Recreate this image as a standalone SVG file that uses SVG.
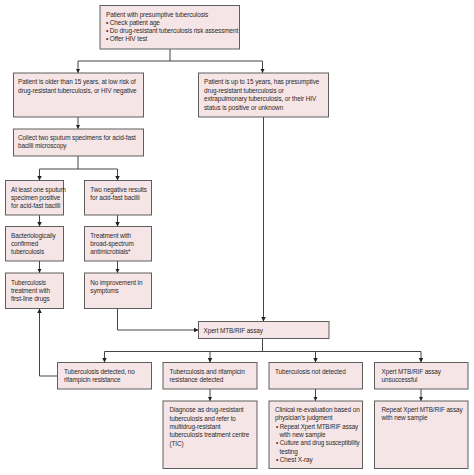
<svg xmlns="http://www.w3.org/2000/svg" width="474" height="475" viewBox="0 0 474 475">
<defs>
<marker id="ah" viewBox="0 0 10 10" refX="10" refY="5" markerWidth="4.5" markerHeight="4.5" markerUnits="userSpaceOnUse" orient="auto"><path d="M0,0 L10,5 L0,10 z" fill="#222"/></marker>
<style>
rect{fill:#f6e5e6;stroke:#5e5e5e;stroke-width:1}
text{font-family:"Liberation Sans",Arial,sans-serif;font-size:6.4px;letter-spacing:-0.09px;fill:#2a2a2a}
.c path{fill:none;stroke:#444;stroke-width:1}
</style>
</defs>
<rect x="0" y="0" width="474" height="475" style="fill:#fff;stroke:none"/>
<g class="c" id="connectors">
<path d="M170,49 V61 M78,61 H262.5 M78,61 V73" marker-end="url(#ah)"/>
<path d="M262.5,61 V73" marker-end="url(#ah)"/>
<path d="M78,117 V129" marker-end="url(#ah)"/>
<path d="M78,156 V169 M39.5,169 H117.5 M39.5,169 V180.5" marker-end="url(#ah)"/>
<path d="M117.5,169 V180.5" marker-end="url(#ah)"/>
<path d="M39.5,215 V226.5" marker-end="url(#ah)"/>
<path d="M117.5,215 V226.5" marker-end="url(#ah)"/>
<path d="M39.5,261 V273" marker-end="url(#ah)"/>
<path d="M117.5,261 V273" marker-end="url(#ah)"/>
<path d="M117.5,308.5 V330 H198.5" marker-end="url(#ah)"/>
<path d="M263.5,117 V321.5" marker-end="url(#ah)"/>
<path d="M57.5,376 H39.5 V308.5" marker-end="url(#ah)"/>
<path d="M262.5,338.5 V351.5 M104.5,351.5 H421 M104.5,351.5 V362.5" marker-end="url(#ah)"/>
<path d="M210,351.5 V362.5" marker-end="url(#ah)"/>
<path d="M315.5,351.5 V362.5" marker-end="url(#ah)"/>
<path d="M421,351.5 V362.5" marker-end="url(#ah)"/>
<path d="M210,389 V401" marker-end="url(#ah)"/>
<path d="M315.5,389 V401" marker-end="url(#ah)"/>
<path d="M421,389 V401" marker-end="url(#ah)"/>
</g>
<g id="n1"><rect x="100" y="5.5" width="139.5" height="43.5"/>
<text x="106" y="16.5">Patient with presumptive tuberculosis</text>
<text x="106" y="24.8">• Check patient age</text>
<text x="106" y="33.1">• Do drug-resistant tuberculosis risk assessment</text>
<text x="106" y="41.4">• Offer HIV test</text></g>
<g id="n2"><rect x="13.5" y="73" width="130" height="44"/>
<text x="18" y="84">Patient is older than 15 years, at low risk of</text>
<text x="18" y="92.5">drug-resistant tuberculosis, or HIV negative</text></g>
<g id="n3"><rect x="198.5" y="73" width="130" height="44"/>
<text x="204" y="84">Patient is up to 15 years, has presumptive</text>
<text x="204" y="92.5">drug-resistant tuberculosis or</text>
<text x="204" y="101">extrapulmonary tuberculosis, or their HIV</text>
<text x="204" y="109.5">status is positive or unknown</text></g>
<g id="n4"><rect x="13.5" y="129" width="130" height="27"/>
<text x="18" y="139.5">Collect two sputum specimens for acid-fast</text>
<text x="18" y="148">bacilli microscopy</text></g>
<g id="n5"><rect x="5.5" y="180.5" width="58" height="34.5"/>
<text x="11" y="191.5">At least one sputum</text>
<text x="11" y="200">specimen positive</text>
<text x="11" y="208.3">for acid-fast bacilli</text></g>
<g id="n6"><rect x="84.5" y="180.5" width="67" height="34.5"/>
<text x="90.3" y="191.5">Two negative results</text>
<text x="90.3" y="200">for acid-fast bacilli</text></g>
<g id="n7"><rect x="5.5" y="226.5" width="58" height="34.5"/>
<text x="11" y="237.5">Bacteriologically</text>
<text x="11" y="246">confirmed</text>
<text x="11" y="254.3">tuberculosis</text></g>
<g id="n8"><rect x="84.5" y="226.5" width="67" height="34.5"/>
<text x="90.3" y="237.5">Treatment with</text>
<text x="90.3" y="246">broad-spectrum</text>
<text x="90.3" y="254.3">antimicrobials*</text></g>
<g id="n9"><rect x="5.5" y="273" width="58" height="35.5"/>
<text x="11" y="284.5">Tuberculosis</text>
<text x="11" y="293">treatment with</text>
<text x="11" y="301.3">first-line drugs</text></g>
<g id="n10"><rect x="84.5" y="273" width="67" height="35.5"/>
<text x="90.3" y="284.5">No improvement in</text>
<text x="90.3" y="293">symptoms</text></g>
<g id="n11"><rect x="198.5" y="321.5" width="130.5" height="17"/>
<text x="203.5" y="333.3">Xpert MTB/RIF assay</text></g>
<g id="n12"><rect x="57.5" y="362.5" width="94" height="26.5"/>
<text x="64" y="373.5">Tuberculosis detected, no</text>
<text x="64" y="382.3">rifampicin resistance</text></g>
<g id="n13"><rect x="163" y="362.5" width="94" height="26.5"/>
<text x="169.5" y="373.5">Tuberculosis and rifampicin</text>
<text x="169.5" y="382.3">resistance detected</text></g>
<g id="n14"><rect x="269" y="362.5" width="93.5" height="26.5"/>
<text x="275" y="373.5">Tuberculosis not detected</text></g>
<g id="n15"><rect x="374.5" y="362.5" width="93.5" height="26.5"/>
<text x="381.5" y="373.5">Xpert MTB/RIF assay</text>
<text x="381.5" y="382.3">unsuccessful</text></g>
<g id="n16"><rect x="163" y="401" width="94" height="67.5"/>
<text x="169.5" y="412">Diagnose as drug-resistant</text>
<text x="169.5" y="420.5">tuberculosis and refer to</text>
<text x="169.5" y="429">multidrug-resistant</text>
<text x="169.5" y="437.3">tuberculosis treatment centre</text>
<text x="169.5" y="445.6">(TIC)</text></g>
<g id="n17"><rect x="269" y="401" width="93.5" height="67.5"/>
<text x="275" y="412">Clinical re-evaluation based on</text>
<text x="275" y="420.3">physician’s judgment</text>
<text x="276" y="428.7" textLength="82" lengthAdjust="spacingAndGlyphs">• Repeat Xpert MTB/RIF assay</text>
<text x="279.5" y="437">with new sample</text>
<text x="276" y="445.3" textLength="83.5" lengthAdjust="spacingAndGlyphs">• Culture and drug susceptibility</text>
<text x="279.5" y="453.7">testing</text>
<text x="276" y="462">• Chest X-ray</text></g>
<g id="n18"><rect x="374.5" y="401" width="93.5" height="67.5"/>
<text x="381.5" y="412">Repeat Xpert MTB/RIF assay</text>
<text x="381.5" y="420.3">with new sample</text></g>
</svg>
